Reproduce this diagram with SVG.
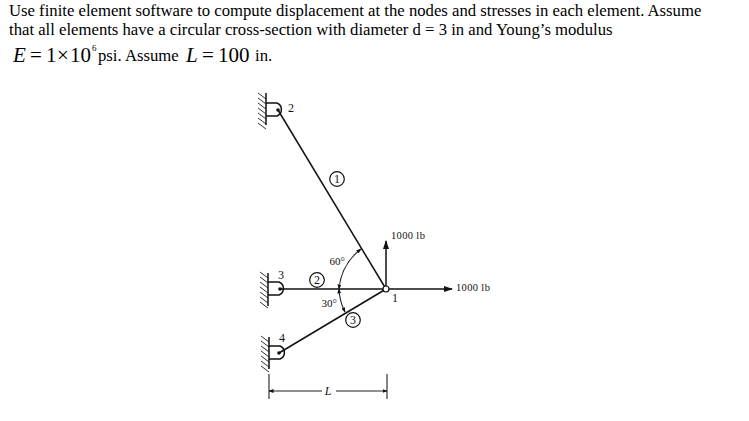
<svg xmlns="http://www.w3.org/2000/svg" width="749" height="421" viewBox="0 0 749 421">
<style>
.t{font-family:"Liberation Serif",serif;fill:#000}
.p{font-size:16.700px}
.m{font-size:21px}
.l{font-family:"Liberation Serif",serif;font-size:10.500px;letter-spacing:.35px;fill:#111}
.n{font-family:"Liberation Serif",serif;font-size:12px;fill:#111}
.d{font-family:"Liberation Serif",serif;font-size:11px;fill:#111}
.s{fill:none;stroke:#111;stroke-width:1.500}
.h{fill:none;stroke:#333;stroke-width:1}
.a{fill:none;stroke:#222;stroke-width:1.100}
.c{fill:#fff;stroke:#111;stroke-width:1.200}
</style>
<defs>
<marker id="ah" markerWidth="9" markerHeight="7" refX="8" refY="3.500" orient="auto-start-reverse" markerUnits="userSpaceOnUse"><path d="M0 .5L9 3.500L0 6.500Z" fill="#111"/></marker>
<marker id="as" markerWidth="5" markerHeight="4" refX="4.500" refY="2" orient="auto-start-reverse" markerUnits="userSpaceOnUse"><path d="M0 0L5 2L0 4Z" fill="#111"/></marker>
<path id="hatch" d="M0 -11L-8 -17M0 -6L-8 -12M0 -1L-8 -7M0 4L-8 -2M0 9L-8 3M0 14L-8 8M0 19L-8 13" class="h"/>
</defs>
<g id="problem-text">
<text class="t p" x="9" y="16">Use finite element software to compute displacement at the nodes and stresses in each element. Assume</text>
<text class="t p" x="9" y="35">that all elements have a circular cross-section with diameter d = 3 in and Young’s modulus</text>
<text class="t m" x="13" y="62" font-style="italic">E</text>
<text class="t m" x="30" y="62">=</text>
<text class="t m" x="46" y="62">1</text>
<text class="t m" x="57" y="62">×</text>
<text class="t m" x="70" y="62">10</text>
<text class="t" x="92" y="51" font-size="9">6</text>
<text class="t p" x="98" y="61">psi. Assume</text>
<text class="t m" x="186" y="62" font-style="italic">L</text>
<text class="t m" x="202" y="62">=</text>
<text class="t m" x="218" y="62">100</text>
<text class="t p" x="255" y="61">in.</text>
</g>
<g id="connectors">
<path class="s" d="M278 110L386 289"/>
<path class="s" d="M280 289L386 289"/>
<path class="s" d="M279 353L386 289"/>
<path class="s" d="M386 289V241" marker-end="url(#ah)"/>
<path class="s" d="M386 289H452" marker-end="url(#ah)"/>
<path class="a" d="M361 249A57 57 0 0 0 339 289" marker-start="url(#as)" marker-end="url(#as)"/>
<path class="a" d="M339 289A57 57 0 0 0 345 312" marker-start="url(#as)" marker-end="url(#as)"/>
</g>
<g id="node-1"><circle class="c" cx="386" cy="289" r="3"/><text class="n" x="392" y="302">1</text></g>
<g id="node-2">
<use href="#hatch" x="266" y="110"/>
<path class="s" d="M266 93V125M266 103H277A7 7 0 0 1 277 116H266"/>
<circle cx="278" cy="110" r="1.800" fill="#111"/>
<text class="n" x="288" y="112">2</text>
</g>
<g id="node-3">
<use href="#hatch" x="268" y="289"/>
<path class="s" d="M268 273V306M268 282H279A7 7 0 0 1 279 295H268"/>
<circle cx="280" cy="289" r="1.800" fill="#111"/>
<text class="n" x="278" y="279">3</text>
</g>
<g id="node-4">
<use href="#hatch" x="269" y="353"/>
<path class="s" d="M269 337V369M269 346H280A7 7 0 0 1 280 359H269"/>
<circle cx="279" cy="353" r="1.800" fill="#111"/>
<text class="n" x="279" y="342">4</text>
</g>
<g id="element-1"><circle cx="337" cy="179" r="7.300" fill="none" stroke="#111" stroke-width="1.200"/><text class="n" x="337" y="183" text-anchor="middle">1</text></g>
<g id="element-2"><circle cx="317" cy="280" r="7.300" fill="none" stroke="#111" stroke-width="1.200"/><text class="n" x="317" y="284" text-anchor="middle">2</text></g>
<g id="element-3"><circle cx="353" cy="320" r="7.300" fill="none" stroke="#111" stroke-width="1.200"/><text class="n" x="353" y="324" text-anchor="middle">3</text></g>
<g id="labels">
<text class="d" x="329.500" y="265">60°</text>
<text class="d" x="321.500" y="306.500">30°</text>
<text class="l" x="391" y="239">1000 lb</text>
<text class="l" x="456" y="291">1000 lb</text>
</g>
<g id="dimension">
<path class="a" d="M269 374V399M387 374V399"/>
<path class="a" d="M269 391H322M336 391H387" marker-start="url(#as)" marker-end="url(#as)"/>
<text class="n" x="328" y="395" text-anchor="middle" font-style="italic">L</text>
</g>
</svg>
